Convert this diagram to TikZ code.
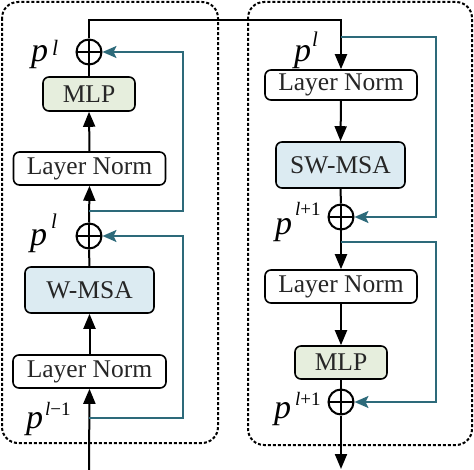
\documentclass[tikz,border=0pt]{standalone}
\usepackage{fontspec}
\setmainfont{Liberation Serif}
\usetikzlibrary{arrows.meta}
\definecolor{skipc}{HTML}{2D6A7A}
\definecolor{mlpfill}{HTML}{E6EEDD}
\definecolor{attfill}{HTML}{DCEBF2}
\tikzset{
  blk/.style={draw, line width=1.6pt, rounded corners=6pt, inner sep=0pt, font=\fontsize{25.5}{25.5}\selectfont, text=black!85},
  plus/.style={draw, circle, line width=2pt, minimum size=25pt, inner sep=0pt,
    path picture={\draw[line width=2pt] (path picture bounding box.north) -- (path picture bounding box.south) (path picture bounding box.west) -- (path picture bounding box.east);}},
  flow/.style={line width=2pt},
  arr/.style={line width=2pt, -{Triangle[length=15pt 0,width=12pt 0]}},
  skip/.style={line width=2pt, draw=skipc, -{Stealth[length=14pt 0,width=12pt 0,inset=3pt]}},
  frame/.style={line width=2pt, dash pattern=on 3pt off 2pt, rounded corners=16pt},
  pl/.style={anchor=base west, inner sep=0pt, font=\fontsize{34}{34}\selectfont\itshape},
  sup/.style={anchor=base west, inner sep=0pt, font=\fontsize{19}{19}\selectfont},
}
\begin{document}
\begin{tikzpicture}[x=1pt,y=-1pt]
\useasboundingbox (0,0) rectangle (474,470);
% frames
\draw[frame] (2,2) rectangle (218,443);
\draw[frame] (248,2) rectangle (472,445);
% left column
\node[plus] (pA1) at (89,52) {};
\node[blk, fill=mlpfill, minimum width=92pt, minimum height=34pt] (mlpA) at (89,94) {MLP};
\node[blk, fill=white, minimum width=152pt, minimum height=33pt] (lnA) at (89.5,168.5) {Layer Norm};
\node[plus] (pA2) at (89,236) {};
\node[blk, fill=attfill, minimum width=129pt, minimum height=46pt] (wmsa) at (89.5,290) {W-MSA};
\node[blk, fill=white, minimum width=153pt, minimum height=33pt] (lnB) at (89.5,371.5) {Layer Norm};
\coordinate (inA) at (89,470);
% right column
\node[blk, fill=white, minimum width=152pt, minimum height=30pt] (lnC) at (341,85) {Layer Norm};
\node[blk, fill=attfill, minimum width=129pt, minimum height=46pt] (swmsa) at (340.5,165) {SW-MSA};
\node[plus] (pB1) at (341,217) {};
\node[blk, fill=white, minimum width=152pt, minimum height=33pt] (lnD) at (341,286.5) {Layer Norm};
\node[blk, fill=mlpfill, minimum width=92pt, minimum height=33pt] (mlpB) at (341,362.5) {MLP};
\node[plus] (pB2) at (341,402) {};
\coordinate (outB) at (341,469);
% labels
\node[pl] (lp1) at (31,62) {p};
\node[sup, font=\fontsize{22}{22}\selectfont] (ls1) at (52,56) {\textit{l}};
\node[pl] (lp2) at (30,246) {p};
\node[sup, font=\fontsize{21}{21}\selectfont] (ls2) at (51,229) {\textit{l}};
\node[pl] (lp3) at (26,428) {p};
\node[sup] (ls3) at (45,415) {\textit{l}−1};
\node[pl] (rp1) at (294,62) {p};
\node[sup, font=\fontsize{21}{21}\selectfont] (rs1) at (312,47) {\textit{l}};
\node[pl] (rp2) at (275,235) {p};
\node[sup] (rs2) at (295,216) {\textit{l}+1};
\node[pl] (rp3) at (274,418) {p};
\node[sup] (rs3) at (295,405) {\textit{l}+1};
% main flow left
\draw[arr] (inA) -- (lnB.south);
\draw[arr] (lnB.north) -- (wmsa.south);
\draw[flow] (wmsa.north) -- (pA2.south);
\draw[arr] (pA2.north) -- (lnA.south);
\draw[arr] (lnA.north) -- (mlpA.south);
\draw[flow] (mlpA.north) -- (pA1.south);
\draw[arr] (pA1.north) -- (89,20) -- (341,20) -- (lnC.north);
% main flow right
\draw[arr] (lnC.south) -- (swmsa.north);
\draw[flow] (swmsa.south) -- (pB1.north);
\draw[arr] (pB1.south) -- (lnD.north);
\draw[arr] (lnD.south) -- (mlpB.north);
\draw[flow] (mlpB.south) -- (pB2.north);
\draw[arr] (pB2.south) -- (outB);
% skip connections
\draw[skip] (89,211) -- (183,211) |- (pA1.east);
\draw[skip] (89,418) -- (183,418) |- (pA2.east);
\draw[skip] (341,37) -- (436,37) |- (pB1.east);
\draw[skip] (341,242) -- (436,242) |- (pB2.east);
\end{tikzpicture}
\end{document}
